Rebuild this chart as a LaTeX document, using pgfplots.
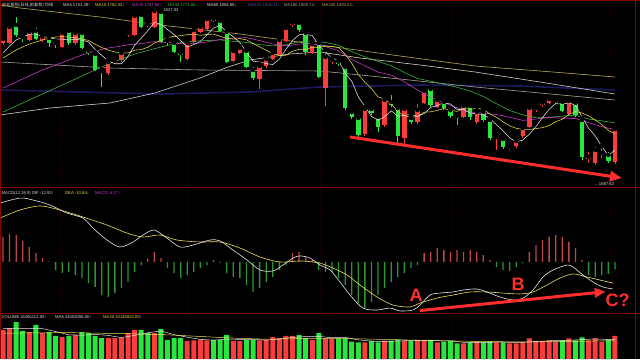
\documentclass[border=0pt]{standalone}
\usepackage{fontspec}
\setmainfont{Liberation Sans}
\newfontfamily\cjk{Noto Sans CJK SC}
\usepackage{pgfplots}
\pgfplotsset{compat=1.18}
\usepackage{pgfplotstable}
\usetikzlibrary{arrows.meta}

\definecolor{cred}{RGB}{250,60,60}
\definecolor{cgreen}{RGB}{40,230,60}
\definecolor{hred}{RGB}{190,70,70}
\definecolor{hgreen}{RGB}{40,150,50}
\definecolor{ma5}{RGB}{230,230,230}
\definecolor{ma10}{RGB}{230,220,60}
\definecolor{ma20}{RGB}{210,60,210}
\definecolor{ma30}{RGB}{60,190,60}
\definecolor{ma60}{RGB}{210,210,200}
\definecolor{ma120}{RGB}{165,165,155}
\definecolor{mablue}{RGB}{35,35,125}
\definecolor{ma240}{RGB}{180,170,90}
\definecolor{frame}{RGB}{130,0,0}
\definecolor{dimgrid}{RGB}{38,0,0}
\definecolor{arrowred}{RGB}{255,45,45}
\definecolor{txt}{RGB}{220,220,220}

\newcommand\hdr{\fontsize{4.2}{5}\selectfont}

\pgfplotsset{
 panel/.style={scale only axis, width=640pt, xmin=-0.456, xmax=96.81, hide axis, anchor=south west, clip=true},
 wick/.style={only marks, mark=none, forget plot, error bars/.cd, y dir=minus, y explicit, error mark=none, error bar style={draw=#1, line width=0.8pt}},
 body/.style={only marks, mark=none, forget plot, error bars/.cd, y dir=minus, y explicit, error mark=none, error bar style={draw=#1, line width=4.4pt}},
}

% up candles: index open high low close
\pgfplotstableread{
i o h l c
0 1797.3 1802.7 1795.5 1800.9
1 1797.3 1813.5 1796.4 1811.7
4 1800.0 1809.0 1799.1 1807.2
6 1800.0 1804.5 1798.2 1802.7
9 1793.7 1808.1 1792.8 1806.3
11 1797.3 1808.1 1795.5 1806.3
16 1770.3 1782.0 1768.5 1780.2
17 1779.3 1782.9 1778.4 1781.1
18 1782.0 1790.1 1780.2 1788.3
19 1804.5 1808.1 1802.7 1806.3
20 1804.5 1823.4 1803.6 1821.6
23 1811.7 1827.02 1810.8 1826.1
28 1782.9 1798.2 1782.0 1797.3
29 1798.2 1810.8 1797.3 1809.0
30 1807.2 1813.5 1806.3 1811.7
31 1809.9 1820.7 1809.0 1818.9
35 1781.1 1791.9 1780.2 1790.1
36 1788.3 1794.6 1787.4 1792.8
39 1764.9 1778.4 1755.9 1776.6
40 1776.6 1784.7 1774.8 1782.9
41 1782.9 1790.1 1782.0 1788.3
42 1786.5 1801.8 1785.6 1800.0
43 1799.1 1812.6 1798.2 1810.8
44 1813.5 1818.0 1811.7 1815.3
47 1788.3 1798.2 1787.4 1796.4
49 1756.8 1791.0 1740.6 1784.7
50 1780.2 1783.8 1778.4 1782.0
55 1715.4 1739.7 1713.6 1737.9
58 1723.5 1747.8 1721.7 1746.0
61 1711.8 1739.7 1703.7 1737.9
63 1726.2 1744.2 1724.4 1737.0
64 1743.3 1755.9 1742.4 1754.1
66 1739.7 1747.8 1738.8 1746.0
70 1730.7 1742.4 1729.8 1740.6
72 1726.2 1737.0 1724.4 1735.2
75 1711.8 1714.5 1701.0 1712.7
77 1702.8 1705.5 1701.0 1703.7
78 1704.6 1710.9 1702.8 1709.1
79 1713.6 1722.6 1711.8 1720.8
80 1721.7 1740.6 1720.8 1738.8
81 1737.0 1740.6 1735.2 1738.8
82 1741.5 1745.1 1739.7 1743.3
83 1743.3 1748.7 1742.4 1746.9
84 1744.2 1747.8 1742.4 1746.0
86 1733.4 1746.9 1731.6 1745.1
89 1692.9 1701.0 1689.3 1694.7
90 1689.3 1705.5 1687.62 1701.0
91 1696.5 1704.6 1693.8 1698.3
93 1690.2 1721.7 1688.4 1719.9
}\redc

% down candles
\pgfplotstableread{
i o h l c
2 1813.5 1822.5 1802.7 1804.5
3 1802.7 1804.5 1798.2 1801.8
5 1808.1 1812.6 1800.0 1800.9
7 1801.8 1804.5 1793.7 1797.3
8 1797.3 1799.1 1792.8 1796.4
10 1808.1 1810.8 1795.5 1797.3
12 1806.3 1809.0 1791.9 1792.8
13 1790.1 1791.9 1786.5 1788.3
14 1787.4 1789.2 1772.1 1773.0
15 1772.1 1773.9 1757.7 1771.2
21 1822.5 1825.2 1810.8 1811.7
22 1814.4 1816.2 1811.7 1813.5
24 1825.2 1826.1 1797.3 1798.2
25 1799.1 1800.9 1794.6 1797.3
26 1797.3 1800.0 1788.3 1789.2
27 1788.3 1791.0 1780.2 1786.5
32 1818.9 1822.5 1816.2 1817.1
33 1817.1 1818.9 1807.2 1808.1
34 1807.2 1808.1 1779.3 1780.2
37 1790.1 1791.9 1774.8 1775.7
38 1773.0 1777.5 1764.0 1765.8
45 1815.3 1817.1 1807.2 1809.0
46 1806.3 1808.1 1786.5 1789.2
48 1797.3 1798.2 1765.8 1766.7
51 1780.2 1782.0 1776.6 1778.4
52 1775.7 1777.5 1737.0 1738.8
53 1735.2 1738.8 1728.9 1730.7
54 1729.8 1732.5 1712.7 1714.5
56 1737.9 1739.7 1732.5 1734.3
57 1730.7 1732.5 1717.2 1721.7
59 1744.2 1752.3 1739.7 1741.5
60 1738.8 1740.6 1707.3 1713.6
62 1729.8 1732.5 1724.4 1726.2
65 1755.9 1757.7 1739.7 1741.5
67 1744.2 1746.0 1737.0 1738.8
68 1737.0 1738.8 1729.8 1731.6
69 1731.6 1733.4 1723.5 1729.8
71 1740.6 1742.4 1728.0 1730.7
73 1735.2 1737.0 1726.2 1728.0
74 1728.0 1729.8 1710.0 1711.8
76 1710.9 1712.7 1701.9 1703.7
85 1744.2 1746.0 1735.2 1736.1
87 1743.3 1745.1 1730.7 1732.5
88 1728.0 1729.8 1692.0 1694.7
92 1696.5 1701.0 1689.3 1691.1
}\greenc

% volume (millions)
\pgfplotstableread{
i v
0 52.8
1 56.4
4 49.1
6 47.3
9 40.0
11 43.7
16 38.2
17 38.2
18 38.2
19 47.3
20 52.8
23 47.3
28 32.8
29 34.1
30 35.2
31 33.9
35 32.8
36 32.8
39 33.8
40 35.3
41 40.0
42 38.2
43 41.9
44 41.9
47 34.6
49 37.7
50 36.4
55 30.4
58 33.3
61 33.3
63 34.6
64 34.6
66 30.4
70 28.6
72 31.5
75 30.4
77 28.6
78 28.6
79 30.4
80 37.7
81 32.8
82 32.8
83 34.0
84 31.5
86 37.7
89 34.0
90 37.7
91 31.5
93 41.96
}\redv

\pgfplotstableread{
i v
2 67.3
3 51.0
5 61.9
7 49.1
8 41.9
10 41.9
12 49.1
13 47.3
14 41.9
15 38.2
21 52.8
22 47.3
24 54.6
25 34.6
26 38.2
27 38.2
32 34.8
33 34.3
34 43.7
37 35.0
38 34.2
45 43.7
46 38.2
48 47.3
51 37.7
52 37.7
53 31.5
54 30.4
56 32.8
57 30.4
59 33.3
60 35.1
62 32.8
65 34.6
67 31.5
68 32.8
69 28.6
71 30.4
73 30.4
74 31.5
76 30.4
85 34.0
87 34.0
88 39.5
92 35.1
}\greenv

\begin{document}
\begin{tikzpicture}
\fill[black] (0,0) rectangle (640pt,359pt);
\useasboundingbox (0,0) rectangle (640pt,359pt);

% faint vertical separators
\foreach \xx in {60,187,320,452,610}{
  \draw[dimgrid, line width=0.5pt, dash pattern=on 1pt off 1.5pt] (\xx pt,0) -- (\xx pt,359pt);
}

%================ MAIN PANEL =================
\begin{axis}[panel, at={(0pt,171.5pt)}, height=187.5pt, ymin=1667.25, ymax=1836]
% long MAs
\addplot[mablue, line width=1.6pt, opacity=0.75] coordinates {(-0.46,1755.0)(11.7,1753.2)(23.86,1751.4)(37.54,1753.2)(48.18,1757.7)(63.37,1759.5)(78.57,1758.6)(93,1755.0)};
\addplot[ma240, line width=0.6pt] coordinates {(-0.46,1831.5)(2.58,1828.8)(14.74,1820.7)(23.86,1813.5)(36.02,1805.4)(48.18,1795.5)(60.33,1785.6)(71.73,1776.6)(81.61,1772.1)(93,1766.7)};
\addplot[ma120, line width=0.6pt] coordinates {(-0.46,1780.2)(16.26,1774.8)(29.94,1773.0)(48.18,1772.1)(60.33,1764.9)(71.73,1757.7)(81.61,1752.3)(93,1746.0)};
\addplot[ma60, line width=0.6pt] coordinates {(-0.46,1732.5)(7.14,1738.8)(16.26,1743.3)(23.1,1752.3)(29.94,1765.8)(34.19,1775.7)(37.54,1782.0)(43.62,1787.4)(48.18,1789.2)(54.26,1783.8)(63.37,1777.5)(71.73,1771.2)(81.61,1762.2)(93,1751.4)};
% candles
\addplot[wick=cred] table[x=i, y=h, y error minus expr=\thisrow{h}-\thisrow{l}] {\redc};
\addplot[body=cred] table[x=i, y=c, y error minus expr=\thisrow{c}-\thisrow{o}] {\redc};
\addplot[wick=cgreen] table[x=i, y=h, y error minus expr=\thisrow{h}-\thisrow{l}] {\greenc};
\addplot[body=cgreen] table[x=i, y=o, y error minus expr=\thisrow{o}-\thisrow{c}] {\greenc};
% MA30
\addplot[ma30, line width=0.55pt] coordinates {(0,1735.2)(4,1746.0)(8,1756.8)(12,1767.6)(16,1778.4)(20,1787.4)(24,1793.7)(27,1797.75)(29,1798.9)(31,1799.5)(33,1800.1)(35,1798.8)(37,1797.8)(39,1795.8)(41,1794.7)(43,1795.7)(45,1798.4)(47,1799.2)(49,1797.75)(51,1795.3)(53,1789.5)(55,1784.8)(57,1780.8)(59,1776.8)(61,1770.8)(63,1765.4)(65,1762.9)(67,1760.2)(69,1757.5)(71,1754.1)(73,1749.2)(75,1742.6)(77,1736.6)(79,1732.6)(81,1729.9)(83,1730.5)(85,1731.5)(87,1732.3)(89,1728.9)(91,1727.2)(93,1725.5)};
% MA20
\addplot[ma20, line width=0.55pt] coordinates {(0,1756.8)(2,1762.2)(4,1767.6)(6,1773.0)(8,1777.5)(10,1782.0)(12,1786.5)(14,1790.1)(16,1792.8)(18,1794.6)(19,1795.7)(21,1796.7)(23,1798.5)(25,1797.8)(27,1796.6)(29,1796.8)(31,1798.2)(33,1800.4)(35,1801.7)(37,1802.1)(39,1799.5)(41,1796.4)(43,1794.8)(45,1796.3)(47,1796.8)(49,1794.0)(51,1790.4)(53,1782.6)(55,1776.7)(57,1771.1)(59,1768.4)(61,1762.4)(63,1755.0)(65,1748.6)(67,1743.5)(69,1739.0)(71,1734.7)(73,1734.3)(75,1732.9)(77,1730.5)(79,1727.6)(81,1728.9)(83,1730.3)(85,1729.6)(87,1729.3)(89,1725.6)(91,1722.0)(93,1719.4)};
% MA10
\addplot[ma10, line width=0.55pt] coordinates {(0,1783.8)(1,1787.4)(2,1791.0)(3,1793.7)(4,1796.4)(5,1798.2)(6,1800.0)(7,1801.8)(8,1802.7)(9,1803.0)(10,1802.6)(11,1802.1)(12,1800.9)(13,1799.6)(14,1796.1)(15,1793.2)(16,1790.9)(17,1789.2)(18,1788.4)(19,1788.4)(20,1790.8)(21,1791.4)(22,1793.4)(23,1797.2)(24,1799.7)(25,1802.3)(26,1803.2)(27,1803.9)(28,1804.8)(29,1805.2)(30,1804.2)(31,1805.0)(32,1805.3)(33,1803.3)(34,1801.5)(35,1800.8)(36,1801.2)(37,1800.1)(38,1796.9)(39,1793.7)(40,1790.8)(41,1787.8)(42,1786.1)(43,1786.3)(44,1789.8)(45,1791.7)(46,1791.4)(47,1793.4)(48,1793.5)(49,1794.3)(50,1794.2)(51,1793.3)(52,1787.1)(53,1779.1)(54,1769.0)(55,1761.9)(56,1756.3)(57,1748.8)(58,1746.7)(59,1742.4)(60,1735.7)(61,1731.7)(62,1730.4)(63,1731.1)(64,1735.0)(65,1735.4)(66,1736.6)(67,1738.3)(68,1736.8)(69,1735.7)(70,1738.4)(71,1737.6)(72,1738.5)(73,1737.6)(74,1733.4)(75,1730.5)(76,1726.3)(77,1722.8)(78,1720.5)(79,1719.6)(80,1719.5)(81,1720.3)(82,1721.1)(83,1723.0)(84,1726.4)(85,1728.7)(86,1732.9)(87,1735.7)(88,1734.3)(89,1731.7)(90,1727.9)(91,1723.9)(92,1718.6)(93,1715.9)};
% MA5
\addplot[ma5, line width=0.55pt] coordinates {(0,1788.3)(1,1794.6)(2,1800.0)(3,1802.7)(4,1805.2)(5,1805.2)(6,1803.4)(7,1802.0)(8,1800.9)(9,1800.7)(10,1800.0)(11,1800.7)(12,1799.8)(13,1798.2)(14,1791.5)(15,1786.3)(16,1781.1)(17,1778.6)(18,1778.6)(19,1785.2)(20,1795.3)(21,1801.6)(22,1808.3)(23,1815.8)(24,1814.2)(25,1809.4)(26,1804.9)(27,1799.5)(28,1793.7)(29,1795.9)(30,1798.7)(31,1804.7)(32,1810.8)(33,1813.0)(34,1807.2)(35,1802.9)(36,1797.7)(37,1789.4)(38,1780.9)(39,1780.2)(40,1778.8)(41,1777.9)(42,1782.7)(43,1791.7)(44,1799.5)(45,1804.7)(46,1804.9)(47,1804.1)(48,1795.3)(49,1789.2)(50,1783.8)(51,1781.6)(52,1770.1)(53,1762.9)(54,1748.9)(55,1740.1)(56,1731.2)(57,1727.8)(58,1730.9)(59,1736.3)(60,1731.4)(61,1732.1)(62,1733.0)(63,1731.2)(64,1733.8)(65,1739.3)(66,1741.0)(67,1743.5)(68,1742.4)(69,1737.5)(70,1737.4)(71,1734.3)(72,1733.6)(73,1732.9)(74,1729.3)(75,1723.7)(76,1718.3)(77,1712.0)(78,1708.2)(79,1710.0)(80,1715.2)(81,1722.2)(82,1730.2)(83,1737.7)(84,1742.8)(85,1742.2)(86,1743.5)(87,1741.3)(88,1730.9)(89,1720.6)(90,1713.6)(91,1704.2)(92,1696.0)(93,1701.0)};
% annotations
\node[anchor=west, inner sep=0, text=txt, font=\hdr] at (axis cs:23.7,1826.6) {←1827.02};
\node[anchor=west, inner sep=0, text=txt, font=\hdr] at (axis cs:89.9,1670.4) {←1687.62};
\draw[arrowred, line width=3pt, -{Triangle[length=12pt,width=10pt]}] (axis cs:52.74,1712.7) -- (axis cs:94.07,1675.8);
\end{axis}

%================ MACD PANEL =================
\begin{axis}[panel, at={(0pt,45.5pt)}, height=126pt, ymin=-28.84, ymax=41.72]
\addplot[ybar, bar width=1.3pt, bar shift=0pt, fill=hred, draw=none] coordinates {(0,14.0)(1,15.7)(2,15.1)(3,11.8)(4,8.4)(5,5.0)(6,2.2)(7,0.4)(22,1.7)(23,5.6)(24,2.2)(32,1.1)(44,5.0)(45,5.6)(46,2.8)(47,1.1)(64,5.0)(65,5.6)(66,7.8)(67,6.7)(68,5.6)(69,6.7)(70,5.6)(71,6.7)(72,5.6)(73,3.9)(74,1.1)(80,5.6)(81,9.5)(82,12.3)(83,14.0)(84,15.1)(85,14.0)(86,11.2)(87,7.8)(88,1.1)};
\addplot[ybar, bar width=1.3pt, bar shift=0pt, fill=hgreen, draw=none] coordinates {(8,-4.5)(9,-6.2)(10,-5.6)(11,-7.3)(12,-9.0)(13,-11.8)(14,-14.0)(15,-18.5)(16,-19.6)(17,-17.4)(18,-14.6)(19,-11.2)(20,-5.6)(21,-1.7)(25,-3.4)(26,-6.2)(27,-9.0)(28,-7.3)(29,-5.6)(30,-3.4)(31,-1.7)(33,-0.4)(34,-6.2)(35,-8.4)(36,-9.0)(37,-12.9)(38,-16.8)(39,-14.6)(40,-11.2)(41,-8.4)(42,-4.5)(43,-1.7)(48,-4.5)(49,-5.6)(50,-5.6)(51,-9.0)(52,-12.9)(53,-18.5)(54,-23.0)(55,-25.8)(56,-22.4)(57,-18.5)(58,-14.6)(59,-11.2)(60,-8.4)(61,-6.2)(62,-3.4)(63,-1.7)(75,-2.8)(76,-4.5)(77,-5.0)(78,-2.8)(79,-0.6)(89,-7.3)(90,-8.4)(91,-7.3)(92,-6.7)(93,-4.2)};
% DEA
\addplot[ma10!85!white, line width=0.6pt, smooth] coordinates {(-0.46,24.6)(2.58,29.1)(5.62,31.4)(8.66,29.1)(12.16,25.2)(15.8,20.7)(18.84,16.2)(21.28,14.0)(23.86,15.1)(26.44,12.3)(29.94,11.2)(32.98,11.2)(36.02,7.8)(39.06,2.8)(42.1,0)(45.14,0.6)(47.11,0)(48.18,-0.6)(50.15,-3.4)(52.28,-7.3)(54.26,-12.9)(56.84,-19.6)(59.27,-24.1)(61.85,-25.2)(63.37,-23.0)(65.95,-20.2)(68.39,-18.5)(70.97,-16.8)(73.56,-16.8)(75.99,-17.4)(78.57,-17.9)(80.55,-16.8)(82.67,-12.9)(84.65,-9.0)(86.63,-6.7)(88.75,-8.4)(90.73,-10.1)(92.7,-11.8)};
% DIF
\addplot[ma5, line width=0.6pt, smooth] coordinates {(-0.46,33.0)(2.58,35.8)(4.56,34.7)(7.14,31.9)(9.73,27.4)(12.16,24.6)(13.68,19.0)(15.8,12.3)(17.78,8.4)(19.76,11.2)(21.28,15.1)(22.95,17.9)(24.92,13.4)(26.9,8.4)(28.88,9.5)(31.46,12.3)(32.98,11.8)(34.95,6.7)(37.08,1.1)(39.06,-4.5)(41.03,-5.0)(42.55,-1.7)(44.07,2.2)(45.14,3.4)(46.66,2.2)(48.18,-1.7)(49.7,-4.5)(51.22,-11.2)(52.74,-18.5)(54.71,-25.8)(56.84,-26.9)(58.81,-25.8)(60.33,-27.4)(62.31,-26.9)(63.37,-24.1)(64.89,-18.5)(66.41,-17.4)(68.39,-16.8)(69.91,-15.7)(72.04,-15.1)(73.56,-16.8)(75.53,-19.6)(77.51,-21.3)(79.03,-20.2)(80.55,-15.7)(82.07,-8.4)(83.59,-4.5)(85.71,-1.7)(86.63,-2.8)(88.15,-7.3)(89.67,-11.2)(91.19,-14.0)(92.7,-15.1)};
\draw[arrowred, line width=3pt, -{Triangle[length=11pt,width=9pt]}] (axis cs:63.37,-27.2) -- (axis cs:91.6,-16.6);
\node[text=arrowred, font=\fontsize{18}{18}\selectfont\bfseries] at (axis cs:62.8,-18.5) {A};
\node[text=arrowred, font=\fontsize{18}{18}\selectfont\bfseries] at (axis cs:78.3,-12.3) {B};
\node[text=arrowred, font=\fontsize{18}{18}\selectfont\bfseries] at (axis cs:93.4,-21.3) {C?};
\end{axis}

%================ VOLUME PANEL =================
\begin{axis}[panel, at={(0pt,0pt)}, height=45.5pt, ymin=0, ymax=82.81]
\addplot[ybar, bar width=5pt, bar shift=0pt, fill=cred, draw=none] table[x=i, y=v] {\redv};
\addplot[ybar, bar width=5pt, bar shift=0pt, fill=cgreen, draw=none] table[x=i, y=v] {\greenv};
\addplot[ma5, line width=0.5pt] coordinates {(0,55.0)(2,56.0)(4,55.3)(6,55.3)(8,49.9)(10,44.0)(12,43.3)(14,44.8)(16,43.0)(18,38.9)(20,43.0)(22,47.7)(24,51.0)(26,44.4)(28,39.7)(30,35.7)(32,34.2)(34,36.4)(36,35.7)(38,35.7)(40,34.2)(42,36.4)(44,39.3)(46,40.8)(48,41.1)(50,38.8)(52,39.3)(54,34.8)(56,32.6)(58,31.5)(60,32.9)(62,33.5)(64,34.0)(66,33.3)(68,32.8)(70,30.4)(72,30.4)(74,30.4)(76,30.8)(78,29.8)(80,31.1)(82,32.4)(84,33.7)(86,34.0)(88,35.3)(90,36.6)(92,35.5)(93,36.0)};
\addplot[ma10!85!white, line width=0.5pt] coordinates {(0,47)(10,48)(19,46)(25,44)(30,41)(35,38)(40,36)(45,37)(50,37.5)(55,36.5)(60,35)(65,33.5)(70,32.5)(75,31.5)(80,31)(85,31.8)(90,32.8)(93,33.1)};
\end{axis}

% frames
\draw[frame, line width=0.8pt] (0,358.6pt) -- (640pt,358.6pt);
\draw[frame, line width=0.8pt] (0,171.5pt) -- (640pt,171.5pt);
\draw[frame, line width=0.8pt] (0,45.5pt) -- (640pt,45.5pt);
\draw[frame, line width=0.8pt] (0.5pt,0) -- (0.5pt,359pt);
\draw[frame, line width=0.8pt] (635.5pt,0) -- (635.5pt,359pt);

% headers
\node[anchor=west, inner sep=0, text=txt, font=\hdr\cjk] at (2pt,354pt) {创业板指(日线,前复权) 均线};
\node[anchor=west, inner sep=0, text=ma5, font=\hdr] at (63pt,354pt) {MA5 1741.28↑};
\node[anchor=west, inner sep=0, text=ma10, font=\hdr] at (95pt,354pt) {MA10 1762.32↓};
\node[anchor=west, inner sep=0, text=ma20, font=\hdr] at (132pt,354pt) {MA20 1787.60↓};
\node[anchor=west, inner sep=0, text=ma30, font=\hdr] at (168pt,354pt) {MA30 1771.66↓};
\node[anchor=west, inner sep=0, text=ma5, font=\hdr] at (207pt,354pt) {MA60 1804.60↓};
\node[anchor=west, inner sep=0, text=mablue!80!white, font=\hdr] at (248pt,354pt) {MA120 1806.21↓};
\node[anchor=west, inner sep=0, text=ma120, font=\hdr] at (284pt,354pt) {MA180 1809.74↓};
\node[anchor=west, inner sep=0, text=ma240, font=\hdr] at (322pt,354pt) {MA240 1835.22↓};

\node[anchor=west, inner sep=0, text=txt, font=\hdr] at (1.5pt,166pt) {MACD(12,26,9) DIF -12.92↑};
\node[anchor=west, inner sep=0, text=ma10, font=\hdr] at (65pt,166pt) {DEA -10.84↓};
\node[anchor=west, inner sep=0, text=ma20, font=\hdr] at (95pt,166pt) {MACD -4.17↑};

\node[anchor=west, inner sep=0, text=txt, font=\hdr] at (1.5pt,41.5pt) {VOLUME 41961112.00↑};
\node[anchor=west, inner sep=0, text=txt, font=\hdr] at (55pt,41.5pt) {MA5 34552056.00↑};
\node[anchor=west, inner sep=0, text=ma10, font=\hdr] at (103pt,41.5pt) {MA20 33145822.00↑};
\end{tikzpicture}
\end{document}
